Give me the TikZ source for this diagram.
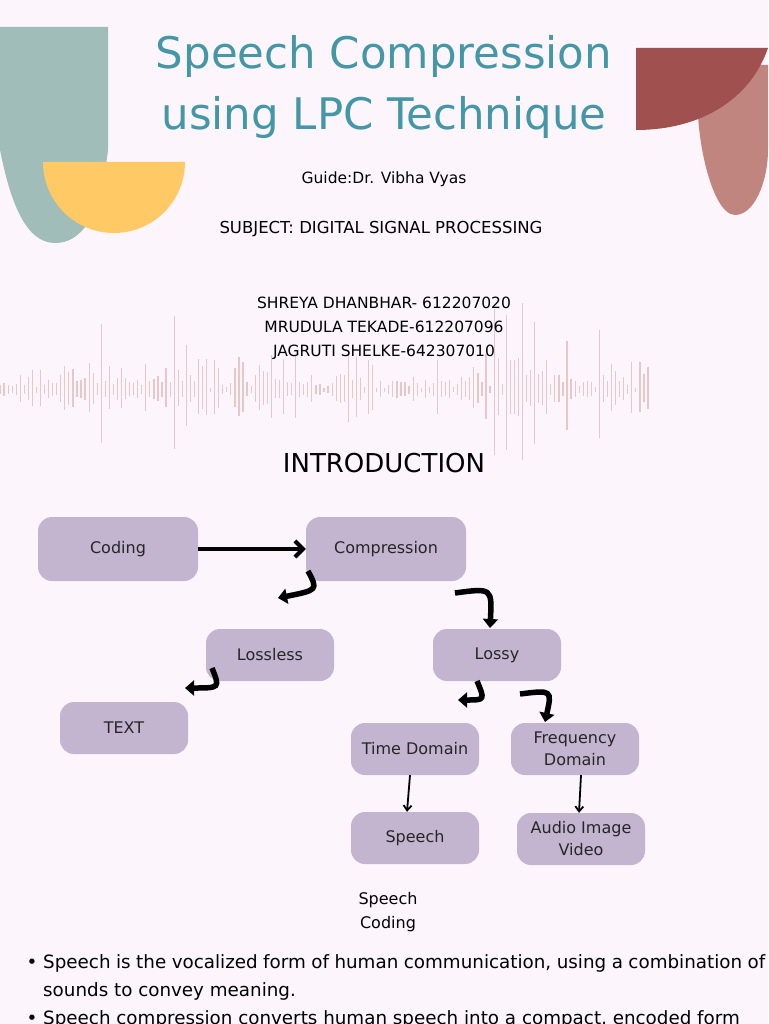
\documentclass[tikz,border=0pt]{standalone}
\usepackage{fontspec}
\setmainfont{DejaVu Sans}
\usetikzlibrary{arrows.meta}
\definecolor{bg}{HTML}{FCF5FC}
\definecolor{boxc}{HTML}{C3B4D0}
\definecolor{titlec}{HTML}{4397A6}
\definecolor{sage}{HTML}{A0BDB9}
\definecolor{yel}{HTML}{FFC966}
\definecolor{dred}{HTML}{A0504E}
\definecolor{pinkc}{HTML}{C0857E}
\definecolor{wave}{HTML}{E6C8C8}
\begin{document}
\begin{tikzpicture}[x=1pt,y=-1pt,
 box/.style={fill=boxc,rounded corners=14pt,minimum width=128pt,minimum height=52pt,align=center,font=\fontsize{16}{22}\selectfont,text=black!85},
 big/.style={box,minimum width=160pt,minimum height=64pt},
 curl/.style={line width=5.5pt,-{Triangle[length=9pt,width=15pt]},black},
 thin/.style={line width=1.8pt,-{Straight Barb[length=5pt,width=8pt]},black}]
\fill[bg] (0,0) rectangle (768,1024);
\useasboundingbox (0,0) rectangle (768,1024);
% decorations
\fill[sage] (0,27) -- (108,27) -- (108,150) .. controls (100,220) and (80,243) .. (55,243) .. controls (25,243) and (10,200) .. (0,150) -- cycle;
\fill[yel] (43,162) -- (185,162) arc[start angle=0,end angle=180,radius=71] -- cycle;
\fill[pinkc] (768,65) -- (700,65) .. controls (690,120) and (710,215) .. (735,215) .. controls (755,215) and (768,180) .. (768,150) -- cycle;
\fill[dred] (636,48) -- (768,48) .. controls (750,100) and (700,130) .. (636,130) -- cycle;
% waveform
\pgfmathsetseed{11}
\foreach \i in {0,...,160}{
  \pgfmathsetmacro{\xx}{\i*4.05}
  \pgfmathsetmacro{\r}{rnd}
  \pgfmathsetmacro{\env}{8+30*abs(sin(\i*5))*abs(sin(\i*1.7+20))}
  \pgfmathsetmacro{\hh}{\r>0.85 ? \env*2.2*rnd+20 : \env*rnd+2}
  \draw[wave,line width=1.2pt] (\xx,390-\hh) -- (\xx,390+\hh*0.8);
}
% texts
\node[text=titlec,font=\fontsize{43.5}{61}\selectfont,align=center] (title) at (384,87) {Speech Compression\\using LPC Technique};
\node[font=\fontsize{15.5}{18}\selectfont] (guide) at (384,179) {Guide:Dr. Vibha Vyas};
\node[font=\fontsize{16.5}{18}\selectfont] (subj) at (381,229) {SUBJECT: DIGITAL SIGNAL PROCESSING};
\node[font=\fontsize{15.5}{24}\selectfont,align=center] (names) at (384,328) {SHREYA DHANBHAR- 612207020\\MRUDULA TEKADE-612207096\\JAGRUTI SHELKE-642307010};
\node[font=\fontsize{26}{30}\selectfont] (intro) at (384,463) {INTRODUCTION};
% boxes
\node[big] (coding) at (118,549) {Coding};
\node[big] (comp) at (386,549) {Compression};
\node[box] (lossless) at (270,655) {Lossless};
\node[box] (lossy) at (497,655) {Lossy};
\node[box] (text) at (124,728) {TEXT};
\node[box] (time) at (415,749) {Time Domain};
\node[box] (freq) at (575,749) {Frequency\\Domain};
\node[box] (speech) at (415,838) {Speech};
\node[box] (audio) at (581,839) {Audio Image\\Video};
\node[font=\fontsize{16}{24}\selectfont,align=center] (sc) at (388,912) {Speech\\Coding};
% connectors
\draw[line width=4pt,-{Straight Barb[length=8pt,width=16pt]}] (coding.east) -- (comp.west);
\coordinate (a1) at (308,571);
\coordinate (a2) at (278,598);
\draw[curl] (a1) .. controls (318,590) .. (a2);
\coordinate (b1) at (455,593);
\coordinate (b2) at (490,628);
\draw[curl] (b1) .. controls (492,588) .. (b2);
\coordinate (c1) at (212,668);
\coordinate (c2) at (185,688);
\draw[curl] (c1) .. controls (220,688) .. (c2);
\coordinate (d1) at (477,681);
\coordinate (d2) at (458,700);
\draw[curl] (d1) .. controls (485,700) .. (d2);
\coordinate (e1) at (520,694);
\coordinate (e2) at (545,722);
\draw[curl] (e1) .. controls (552,690) .. (e2);
\draw[thin] ([xshift=-5pt]time.south) -- ([xshift=-8pt]speech.north);
\draw[thin] ([xshift=6pt]freq.south) -- ([xshift=-2pt]audio.north);
% bullets
\node[anchor=north west,text width=722pt,align=justify,font=\fontsize{18.3}{28}\selectfont,inner sep=0pt] (b) at (43,954) {\leavevmode\llap{•\ }Speech is the vocalized form of human communication, using a combination of sounds to convey meaning.\par\leavevmode\llap{•\ }Speech compression converts human speech into a compact, encoded form};
\end{tikzpicture}
\end{document}
